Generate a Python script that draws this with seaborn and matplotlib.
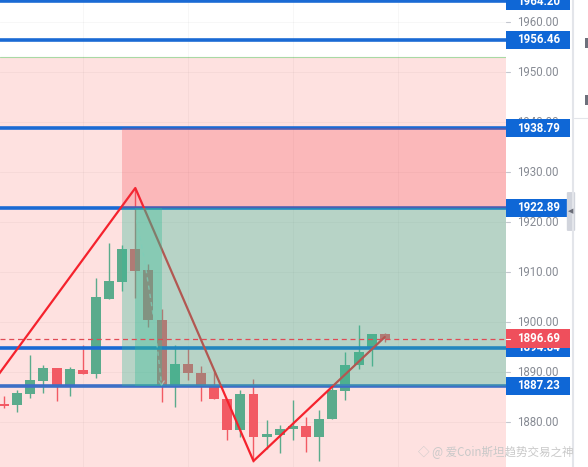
import matplotlib
matplotlib.use("Agg")
import matplotlib.pyplot as plt
from matplotlib.patches import Rectangle, FancyBboxPatch
from matplotlib.lines import Line2D
import seaborn as sns

# ---------------------------------------------
# Data
# ---------------------------------------------
opens = [1883.6, 1883.5, 1885.7, 1888.3, 1890.8, 1887.3, 1890.5, 1889.7, 1904.6, 1908.1,
         1914.6, 1910.4, 1900.4, 1887.4, 1891.7, 1889.9, 1887.4, 1884.7, 1878.5, 1885.7,
         1877.1, 1877.5, 1878.7, 1879.2, 1877.1, 1880.7, 1886.3, 1891.4, 1894.8, 1897.6]
highs = [1885.2, 1886.4, 1893.4, 1891.5, 1890.8, 1891.0, 1895.4, 1908.9, 1915.9, 1915.4,
         1926.8, 1911.6, 1902.7, 1895.4, 1895.1, 1891.2, 1890.1, 1884.7, 1886.5, 1888.7,
         1880.5, 1879.5, 1884.4, 1881.1, 1882.4, 1887.6, 1894.1, 1899.4, 1897.6, 1897.9]
lows = [1882.8, 1882.0, 1884.8, 1885.9, 1884.3, 1885.2, 1889.6, 1888.9, 1904.6, 1906.2,
        1904.9, 1899.1, 1884.1, 1883.1, 1888.4, 1884.3, 1884.7, 1876.4, 1877.1, 1872.1,
        1874.7, 1873.9, 1876.4, 1874.1, 1872.3, 1880.7, 1884.4, 1890.7, 1891.2, 1896.1]
closes = [1883.2, 1885.9, 1888.4, 1890.8, 1887.4, 1890.6, 1889.7, 1904.9, 1908.2, 1914.6,
          1910.3, 1900.4, 1887.4, 1891.7, 1889.9, 1887.4, 1884.7, 1878.5, 1885.7, 1877.1,
          1877.6, 1878.7, 1879.2, 1877.1, 1880.7, 1886.4, 1891.4, 1894.1, 1897.6, 1896.7]

levels = [1964.20, 1956.46, 1938.79, 1922.89, 1894.84, 1887.23]
last_price = 1896.69
axis_ticks = [1880, 1890, 1900, 1910, 1920, 1930, 1940, 1950, 1960]

zigzag_idx = [-1, 10, 19, 29]
zigzag_price = [1887.4, 1926.8, 1872.2, 1897.0]

path_idx = [10.1, 10.7, 11.3, 11.7, 12.0]
path_price = [1920.4, 1912.4, 1902.4, 1894.4, 1887.4]

zone_top = 1953.0
stop_low, stop_high = 1922.89, 1938.79
target_low, target_high = 1887.23, 1922.89
zone_start = 9
band_start, band_end = 10, 12
grid_x = [6, 14, 22, 30]

# colours
GREEN = "#5aab8c"
RED = "#f25a64"
BLUE = "#0f67d6"
ZONE_GREEN = (53 / 255, 187 / 255, 151 / 255)

sns.set_style("white")

fig = plt.figure(figsize=(5.88, 4.67), dpi=100)
ax = fig.add_axes([0, 0, 506 / 588, 1])
ax.set_xlim(-0.305, 38.23)
ax.set_ylim(1871.0, 1964.4)
for s in ax.spines.values():
    s.set_visible(False)
ax.set_xticks([])
ax.set_yticks([])

# background zone
ax.axhspan(1871.0, zone_top, color="#fee1e0", lw=0, zorder=0)
ax.axhline(zone_top, color="#a9d9a4", lw=0.8, zorder=0.5)

# faint grid
for t in axis_ticks:
    ax.axhline(t, color="black", alpha=0.03, lw=0.8, zorder=0.6)
for gx in grid_x:
    ax.axvline(gx, color="black", alpha=0.03, lw=0.8, zorder=0.6)

# candles
for i, (o, h, l, c) in enumerate(zip(opens, highs, lows, closes)):
    col = GREEN if c >= o else RED
    ax.vlines(i, l, h, color=col, lw=1.0, zorder=2)
    bottom = min(o, c)
    height = max(abs(c - o), 0.5)
    ax.bar(i, height, bottom=bottom, width=0.76, color=col, lw=0, zorder=2.1)

# horizontal levels
for lv in levels:
    col = "#3d6fc6" if lv == 1887.23 else "#1a6ad4"
    ax.axhline(lv, color=col, lw=2.6, zorder=3)

# zigzag
sns.lineplot(x=zigzag_idx, y=zigzag_price, ax=ax, color="#f5222d", lw=1.6,
             sort=False, zorder=3.2)

# dashed path inside the band
ax.plot(path_idx, path_price, color="#e8e8e8", alpha=0.75, lw=1.0,
        ls=(0, (3, 3)), zorder=3.3)
ax.plot([path_idx[-1] - 0.2, path_idx[-1], path_idx[-1] + 0.2],
        [path_price[-1] + 0.8, path_price[-1], path_price[-1] + 0.8],
        color="#e8e8e8", alpha=0.75, lw=0.9, zorder=3.3)

# position tool overlays
ax.add_patch(Rectangle((zone_start, stop_low), 60, stop_high - stop_low,
                       facecolor="#f23645", alpha=0.24, lw=0, zorder=4))
ax.add_patch(Rectangle((zone_start, target_low), 60, target_high - target_low,
                       facecolor=ZONE_GREEN, alpha=0.35, lw=0, zorder=4))
ax.add_patch(Rectangle((band_start, target_low), band_end - band_start, target_high - target_low,
                       facecolor=ZONE_GREEN, alpha=0.37, lw=0, zorder=4.1))

# current price line
ax.axhline(last_price, color="#e04b55", lw=0.9, ls=(0, (4, 3)), zorder=5)

# ---------------------------------------------
# price scale
# ---------------------------------------------
trans = ax.get_yaxis_transform()
for t in axis_ticks:
    ax.text(1.0217, t, f"{t:.2f}", transform=trans, ha="left", va="center",
            color="#878b94", fontsize=8.3, family="Roboto", clip_on=False, zorder=6)
    ax.plot([1.0, 1.008], [t, t], transform=trans, color="#c3c6ce", lw=0.8,
            clip_on=False, zorder=6)

box_w = 64 / 506
for lv in levels:
    ax.add_patch(Rectangle((1.0, lv - 1.8), box_w, 3.6, transform=trans,
                           facecolor=BLUE, lw=0, clip_on=False, zorder=7))
    ax.text(1.0217, lv, f"{lv:.2f}", transform=trans, ha="left", va="center",
            color="white", fontsize=8.3, family="Roboto", weight="bold",
            clip_on=False, zorder=7.1)

ax.add_patch(Rectangle((1.0, last_price - 1.95), box_w, 3.9, transform=trans,
                       facecolor="#ef4f5c", lw=0, clip_on=False, zorder=8))
ax.text(1.0217, last_price, f"{last_price:.2f}", transform=trans, ha="left", va="center",
        color="white", fontsize=8.3, family="Roboto", weight="bold",
        clip_on=False, zorder=8.1)
ax.plot([1.0, 1.008], [last_price, last_price], transform=trans, color="white",
        lw=0.8, clip_on=False, zorder=8.2)

# right edge panel bits
fig.add_artist(Line2D([573 / 588, 573 / 588], [0, 1], color="#e3e5ea", lw=1.5))
fig.add_artist(Line2D([574 / 588, 1], [1 - 118 / 467, 1 - 118 / 467], color="#e3e5ea", lw=0.8))
for yy in [43, 100]:
    fig.add_artist(Rectangle((585 / 588, 1 - (yy + 5) / 467), 3 / 588, 10 / 467,
                             facecolor="#6d707b", lw=0))
fig.add_artist(FancyBboxPatch((568 / 588, 1 - 230 / 467), 6 / 588, 37 / 467,
                              boxstyle="round,pad=0.002", facecolor="#d1d4dc", lw=0))
fig.text(571 / 588, 1 - 211 / 467, "◀", fontsize=5, color="#6a6d78",
         ha="center", va="center")

# watermark
fig.text(418 / 588, 1 - 452 / 467, "◇ @ 爱Coin斯坦趋势交易之神", color="#c9c9c9",
         fontsize=8.3, family=["Noto Sans CJK SC", "DejaVu Sans"], va="center", ha="left")

fig.savefig("out.png", dpi=100)
